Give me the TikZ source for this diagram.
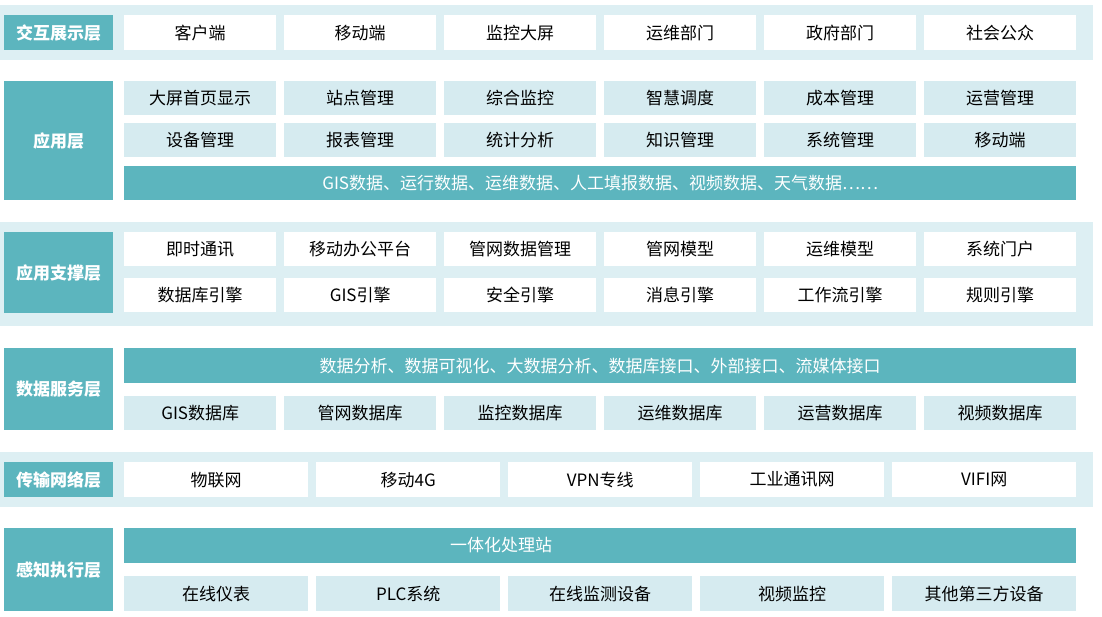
\documentclass[tikz,border=0pt]{standalone}
\usepackage{fontspec}
\setmainfont{Noto Sans CJK SC}
\usetikzlibrary{positioning}
\definecolor{tealc}{HTML}{5CB5BE}
\definecolor{bandc}{HTML}{DDEFF3}
\definecolor{palec}{HTML}{D6EBF0}
\newcount\mycount
\begin{document}
\begin{tikzpicture}[x=1pt,y=-1pt,
	lab/.style={anchor=north west,fill=tealc,text=white,inner sep=0pt,minimum width=109pt,font=\bfseries\fontsize{17}{17}\selectfont},
	wbox/.style={anchor=north west,fill=white,inner sep=0pt,minimum height=35pt,font=\fontsize{17}{17}\selectfont},
	pbox/.style={wbox,fill=palec},
	bar/.style={anchor=north west,fill=tealc,text=white,inner sep=0pt,minimum width=952pt,minimum height=35pt,font=\fontsize{17}{17}\selectfont}]
\useasboundingbox (0,0) rectangle (1102,616);
\def\six{152pt}
\def\five{184pt}
\fill[bandc] (0,5) rectangle (1093,60);
\fill[bandc] (0,222) rectangle (1093,326);
\fill[bandc] (0,452) rectangle (1093,507);

\node[lab,minimum height=35pt] (show) at (4,15) {交互展示层};
\node[lab,minimum height=119pt] (app) at (4,81) {应用层};
\node[lab,minimum height=81pt] (supp) at (4,232) {应用支撑层};
\node[lab,minimum height=82pt] (data) at (4,348) {数据服务层};
\node[lab,minimum height=35pt] (net) at (4,462) {传输网络层};
\node[lab,minimum height=83pt] (sense) at (4,528) {感知执行层};

\foreach \t [count=\i from 0] in {客户端,移动端,监控大屏,运维部门,政府部门,社会公众}
	\node[wbox,minimum width=\six] (show\i) at (124+\i*160,15) {\t};

\foreach \t [count=\i from 0] in {大屏首页显示,站点管理,综合监控,智慧调度,成本管理,运营管理}
	\node[pbox,minimum width=\six,minimum height=34pt] (appa\i) at (124+\i*160,81) {\t};
\foreach \t [count=\i from 0] in {设备管理,报表管理,统计分析,知识管理,系统管理,移动端}
	\node[pbox,minimum width=\six,minimum height=34pt] (appb\i) at (124+\i*160,123) {\t};
\node[bar,minimum height=34pt] (appbar) at (124,166) {GIS数据、运行数据、运维数据、人工填报数据、视频数据、天气数据……};

\foreach \t [count=\i from 0] in {即时通讯,移动办公平台,管网数据管理,管网模型,运维模型,系统门户}
	\node[wbox,minimum width=\six,minimum height=34pt] (suppa\i) at (124+\i*160,232) {\t};
\foreach \t [count=\i from 0] in {数据库引擎,GIS引擎,安全引擎,消息引擎,工作流引擎,规则引擎}
	\node[wbox,minimum width=\six,minimum height=34pt] (suppb\i) at (124+\i*160,278) {\t};

\node[bar] (databar) at (124,348) {数据分析、数据可视化、大数据分析、数据库接口、外部接口、流媒体接口};
\foreach \t [count=\i from 0] in {GIS数据库,管网数据库,监控数据库,运维数据库,运营数据库,视频数据库}
	\node[pbox,minimum width=\six,minimum height=34pt] (data\i) at (124+\i*160,396) {\t};

\foreach \t [count=\i from 0] in {物联网,移动4G,VPN专线,工业通讯网,VIFI网}
	\node[wbox,minimum width=\five] (net\i) at (124+\i*192,462) {\t};

\node[bar] (sensebar) at (124,528) {};
\node[text=white,font=\fontsize{17}{17}\selectfont] (station) at (501,545.5) {一体化处理站};
\foreach \t [count=\i from 0] in {在线仪表,PLC系统,在线监测设备,视频监控,其他第三方设备}
	\node[pbox,minimum width=\five] (sense\i) at (124+\i*192,576) {\t};
\end{tikzpicture}
\end{document}
